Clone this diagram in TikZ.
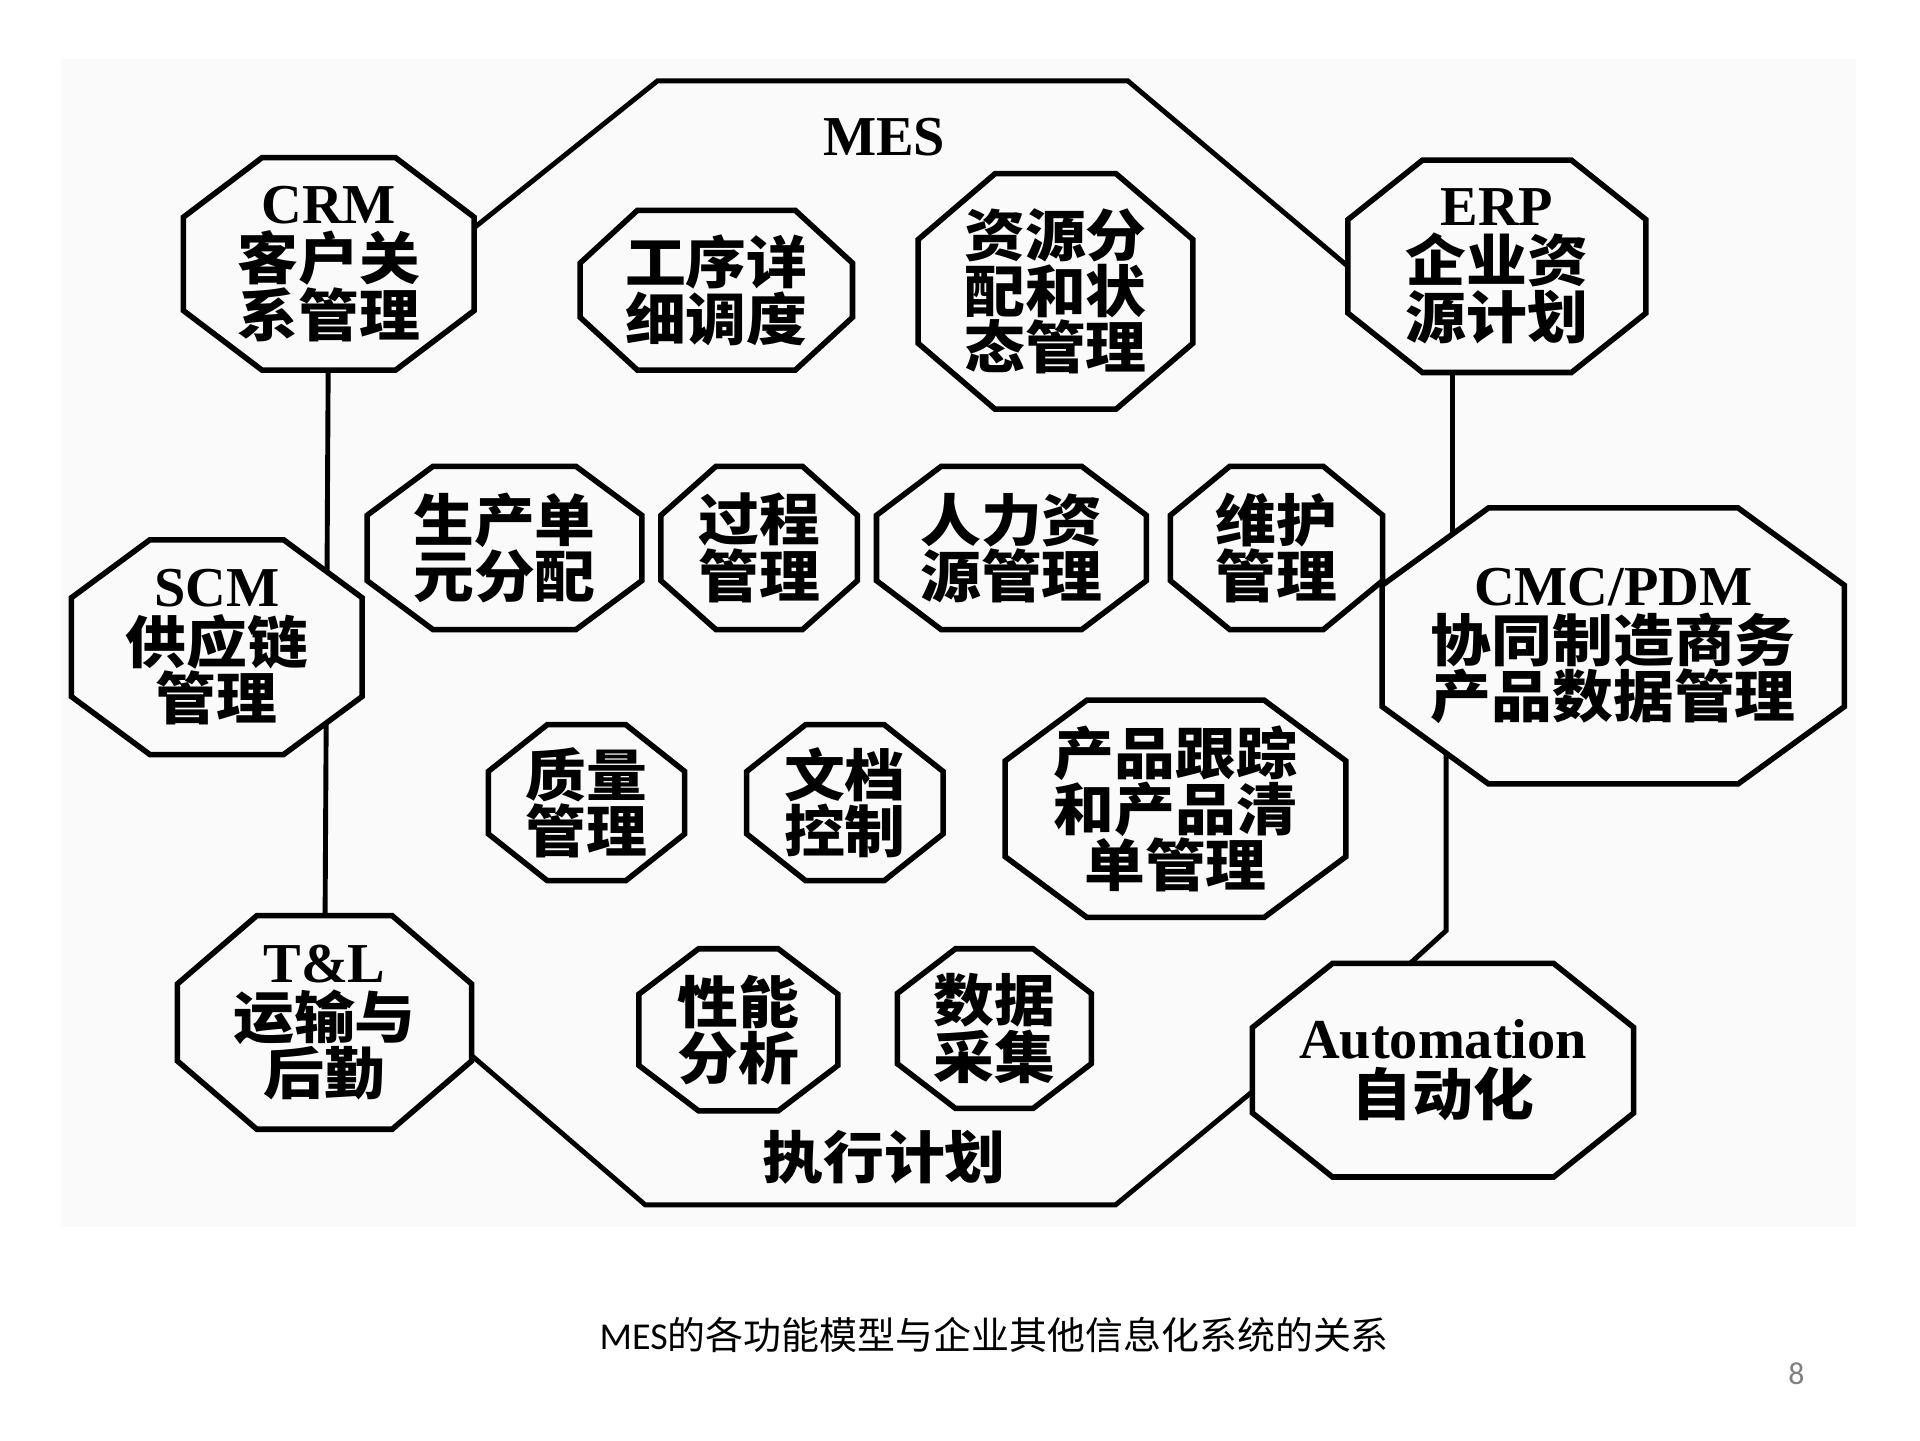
\documentclass[tikz,border=0pt]{standalone}
\usepackage{fontspec}
\setmainfont{Liberation Serif}
\newfontfamily\cjk{Noto Sans CJK SC}[FakeStretch=1.08]
\newfontfamily\cjkcap{Noto Sans CJK SC}
\newfontfamily\capfont{Carlito}
\usetikzlibrary{calc,backgrounds}
\definecolor{bgcol}{RGB}{249,250,249}
\newcommand\lat[1]{{\rmfamily #1}}
% octagon drawn round a node: node, x chamfer, y chamfer
\newcommand\octframe[3]{%
  \filldraw[octline] ($(#1.north west)!#2!(#1.north east)$) -- ($(#1.north east)!#2!(#1.north west)$)
    -- ($(#1.north east)!#3!(#1.south east)$) -- ($(#1.south east)!#3!(#1.north east)$)
    -- ($(#1.south east)!#2!(#1.south west)$) -- ($(#1.south west)!#2!(#1.south east)$)
    -- ($(#1.south west)!#3!(#1.north west)$) -- ($(#1.north west)!#3!(#1.south west)$) -- cycle;}

\begin{document}
\begin{tikzpicture}[x=1pt,y=-1pt,
  octbox/.style={rectangle,inner sep=0pt,align=center,font=\cjk\bfseries\fontsize{46}{46}\selectfont},
  octline/.style={line width=4.5pt,draw=black,fill=bgcol,line join=miter},
  mesline/.style={line width=4pt}]
  \useasboundingbox (0,0) rectangle (1568,1176);

  % outer systems
  \node[octbox,minimum width=237pt,minimum height=173pt] (crm) at (268.5,215.5) {\lat{CRM}\\客户关\\系管理};
  \node[octbox,minimum width=243pt,minimum height=173pt] (erp) at (1222.5,217.5) {\lat{ERP}\\企业资\\源计划};
  \node[octbox,minimum width=237pt,minimum height=175pt] (scm) at (177,528.5) {\lat{SCM}\\供应链\\管理};
  \node[octbox,minimum width=377pt,minimum height=225pt] (cmc) at (1317.5,527.5) {\lat{CMC/PDM}\\协同制造商务\\产品数据管理};
  \node[octbox,minimum width=240pt,minimum height=174pt] (tl) at (265,835) {\lat{T\&L}\\运输与\\后勤};
  \node[octbox,minimum width=311pt,minimum height=174pt] (auto) at (1178.5,874) {\lat{Automation}\\自动化};

  % MES modules
  \node[octbox,minimum width=222pt,minimum height=130pt] (gxdd) at (585,237) {工序详\\细调度};
  \node[octbox,minimum width=224pt,minimum height=192pt] (zyfp) at (862,238) {资源分\\配和状\\态管理};
  \node[octbox,minimum width=224pt,minimum height=133pt] (scdy) at (412,447.5) {生产单\\元分配};
  \node[octbox,minimum width=160pt,minimum height=133pt] (gcgl) at (620,447.5) {过程\\管理};
  \node[octbox,minimum width=220pt,minimum height=133pt] (rlzy) at (826,447.5) {人力资\\源管理};
  \node[octbox,minimum width=173pt,minimum height=133pt] (whgl) at (1042.5,447.5) {维护\\管理};
  \node[octbox,minimum width=160pt,minimum height=127pt] (zlgl) at (479,655.5) {质量\\管理};
  \node[octbox,minimum width=160pt,minimum height=127pt] (wdkz) at (690,655.5) {文档\\控制};
  \node[octbox,minimum width=278pt,minimum height=177pt] (cpgz) at (960,660.5) {产品跟踪\\和产品清\\单管理};
  \node[octbox,minimum width=162pt,minimum height=132pt] (xnfx) at (603,841) {性能\\分析};
  \node[octbox,minimum width=158pt,minimum height=130pt] (sjcj) at (812,840) {数据\\采集};

  \node[font=\bfseries\fontsize{46}{47}\selectfont] (meslabel) at (722,112) {MES};
  \node[font=\cjk\bfseries\fontsize{46}{47}\selectfont] (zxjh) at (722,945) {执行计划};

  % MES outline corners
  \coordinate (mestl) at (537,66);
  \coordinate (mestr) at (921,66);
  \coordinate (mesr) at (1181,760);
  \coordinate (mesbr) at (911,984);
  \coordinate (mesbl) at (527,984);
  \coordinate (erpdn) at ([xshift=-36pt]erp.south);

  \begin{pgfonlayer}{background}
    \fill[white] (0,0) rectangle (1568,1176);
    \fill[bgcol] (50,48) rectangle (1516,1002);
    \draw[mesline] ($(crm.north east)!0.33!(crm.south east)$) -- (mestl) -- (mestr) -- (erp.west);
    \draw[mesline] (erpdn) -- (erpdn |- cmc.center);
    \draw[mesline] (cmc.center -| mesr) -- (mesr) -- ([xshift=-27pt]auto.north);
    \draw[mesline] ($(auto.north west)!0.6!(auto.south west)$) -- (mesbr) -- (mesbl)
      -- ($(tl.north east)!0.655!(tl.south east)$);
    \draw[mesline] (crm) -- (tl);
    \foreach \n/\cx/\cy in {crm/0.27/0.28, erp/0.25/0.28, scm/0.27/0.27, cmc/0.23/0.28,
        tl/0.27/0.32, auto/0.21/0.3, gxdd/0.21/0.33, zyfp/0.28/0.28, scdy/0.24/0.3,
        gcgl/0.28/0.3, rlzy/0.24/0.3, whgl/0.28/0.3, zlgl/0.3/0.3, wdkz/0.3/0.3,
        cpgz/0.24/0.28, xnfx/0.3/0.28, sjcj/0.3/0.28}
      {\octframe{\n}{\cx}{\cy}}
  \end{pgfonlayer}

  \node (caption) at (812,1090) {\fontsize{31}{36}\selectfont{\capfont MES}{\cjkcap 的各功能模型与企业其他信息化系统的关系}};
  \node[text=black!50] (pagenum) at (1467,1122) {\capfont\fontsize{26}{30}\selectfont 8};
\end{tikzpicture}
\end{document}
